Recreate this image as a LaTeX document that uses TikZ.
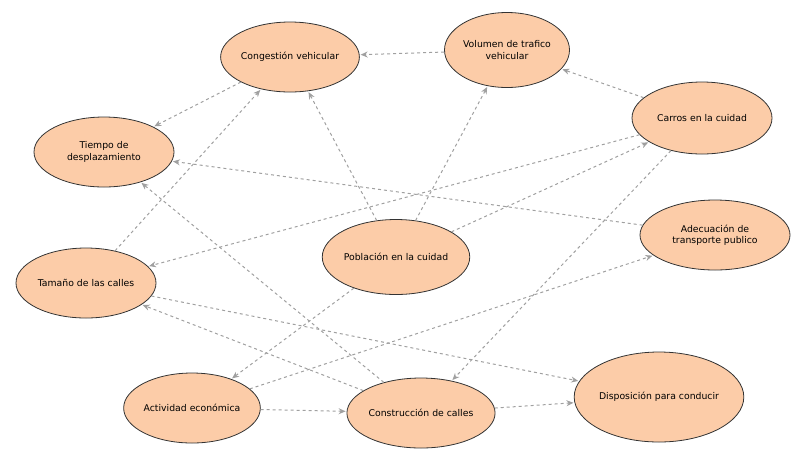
\documentclass[tikz,border=0pt]{standalone}
\usepackage{fontspec}
\setmainfont{DejaVu Sans}
\usetikzlibrary{shapes.geometric,arrows.meta}
\definecolor{peach}{RGB}{252,204,168}
\definecolor{edgeg}{RGB}{160,160,160}
\begin{document}
\begin{tikzpicture}[x=1pt,y=-1pt,
  nd/.style={ellipse,draw=black!80,line width=0.8pt,fill=peach,align=center,font=\fontsize{9.3}{11.5}\selectfont,inner sep=0pt},
  ed/.style={draw=edgeg,dashed,line width=1pt,-{Stealth[length=7pt,width=6pt]},shorten >=1pt}]
\useasboundingbox (0,0) rectangle (800,467);
\node[nd,minimum width=135,minimum height=70] (cong) at (290,57) {Congestión vehicular};
\node[nd,minimum width=125,minimum height=75] (vol) at (507,50) {Volumen de trafico\\vehicular};
\node[nd,minimum width=140,minimum height=72] (car) at (702,118) {Carros en la cuidad};
\node[nd,minimum width=140,minimum height=70] (tie) at (104,152) {Tiempo de\\desplazamiento};
\node[nd,minimum width=150,minimum height=70] (ade) at (715,235) {Adecuación de\\transporte publico};
\node[nd,minimum width=145,minimum height=75] (pob) at (396,257) {Población en la cuidad};
\node[nd,minimum width=140,minimum height=70] (tam) at (86,283) {Tamaño de las calles};
\node[nd,minimum width=130,minimum height=70] (act) at (192,408) {Actividad económica};
\node[nd,minimum width=145,minimum height=70] (con) at (421,413) {Construcción de calles};
\node[nd,minimum width=160,minimum height=90] (dis) at (659,397) {Disposición para conducir};
\draw[ed] (vol) -- (cong);
\draw[ed] (car) -- (vol);
\draw[ed] (cong) -- (tie);
\draw[ed] (tam) -- (cong);
\draw[ed] (pob) -- (cong);
\draw[ed] (pob) -- (vol);
\draw[ed] (car) -- (tam);
\draw[ed] (pob) -- (car);
\draw[ed] (ade) -- (tie);
\draw[ed] (con) -- (tie);
\draw[ed] (pob) -- (act);
\draw[ed] (act) -- (ade);
\draw[ed] (tam) -- (dis);
\draw[ed] (con) -- (tam);
\draw[ed] (car) -- (con);
\draw[ed] (act) -- (con);
\draw[ed] (con) -- (dis);
\end{tikzpicture}
\end{document}
